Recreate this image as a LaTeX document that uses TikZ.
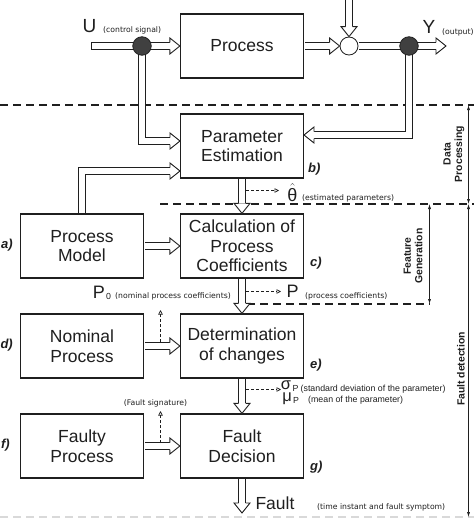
\documentclass[tikz,border=0pt]{standalone}
\usepackage{fontspec}
\setmainfont{Liberation Sans}
\newfontfamily\smallf{DejaVu Sans}
\usetikzlibrary{arrows.meta,calc}
\definecolor{ink}{gray}{0.12}
\newcommand\hR[1]{\begin{scope}[shift={(#1)}]\draw[hhd] (-10,-3.5)--(-10,-8)--(0,0)--(-10,8)--(-10,3.5);\end{scope}}
\newcommand\hL[1]{\begin{scope}[shift={(#1)}]\draw[hhd] (10,-3.5)--(10,-8)--(0,0)--(10,8)--(10,3.5);\end{scope}}
\newcommand\hD[1]{\begin{scope}[shift={(#1)}]\draw[hhd] (-3.5,-10)--(-8,-10)--(0,0)--(8,-10)--(3.5,-10);\end{scope}}
\tikzset{
 box/.style={draw=ink, line width=1.3pt, minimum width=123pt, minimum height=64pt, inner sep=0pt, align=center, font=\fontsize{17.5}{19.5}\selectfont, text=ink},
 pipe/.style={draw=ink, double=white, line width=0.9pt, double distance=6.1pt, shorten >=10pt, shorten <=0.6pt, line join=miter},
 hhd/.style={draw=ink, fill=white, line width=0.9pt, line join=miter},
 dsh/.style={draw=ink, line width=0.7pt, dash pattern=on 3pt off 2pt, -{Triangle[open,length=4.5pt,width=4.5pt]}},
 sepline/.style={draw=ink, line width=1.4pt, dash pattern=on 8pt off 5pt},
 dim/.style={draw=ink, line width=0.6pt, {Latex[length=5pt,width=3pt]}-{Latex[length=5pt,width=3pt]}},
 lbl/.style={font=\fontsize{13}{13}\selectfont\bfseries\itshape, text=ink, inner sep=0pt},
 note/.style={font=\smallf\fontsize{7.7}{8}\selectfont, text=ink, inner sep=0pt},
 noteb/.style={font=\fontsize{8.8}{9}\selectfont, text=ink, inner sep=0pt},
 big/.style={font=\fontsize{19}{19}\selectfont, text=ink, inner sep=0pt},
 greek/.style={font=\fontsize{16.5}{16.5}\selectfont, text=ink, inner sep=0pt},
 side/.style={font=\fontsize{10.4}{11.5}\selectfont\bfseries, text=ink, rotate=90, align=center, inner sep=0pt},
 dot/.style={circle, draw=ink, fill=black!75, line width=0.8pt, minimum size=18.5pt, inner sep=0pt},
}
\begin{document}
\begin{tikzpicture}[x=1pt,y=-1pt]
\useasboundingbox (0,0) rectangle (474,519);
\fill[white] (0,0) rectangle (474,519);
% boxes
\node[box] (proc) at (242,46) {Process};
\node[box] (pe) at (242,146) {Parameter\\Estimation};
\node[box] (pm) at (82,246) {Process\\Model};
\node[box] (calc) at (242,246) {Calculation of\\Process\\Coefficients};
\node[box] (np) at (82,346) {Nominal\\Process};
\node[box] (det) at (242,346) {Determination\\of changes};
\node[box] (fp) at (82,446) {Faulty\\Process};
\node[box] (fd) at (242,446) {Fault\\Decision};
\node[circle, draw=ink, fill=white, line width=0.8pt, minimum size=18pt, inner sep=0pt] (sc) at (349,46) {};
% coordinates
\coordinate (uin) at (91,46);
\coordinate (j1) at (142,46);
\coordinate (j2) at (409,46);
\coordinate (topin) at (349,-2);
\coordinate (yout) at (446,46);
\coordinate (pein1) at (180,141);
\coordinate (pein2) at (304,135);
\coordinate (pein3) at (180,171);
\coordinate (faultout) at (242,513);
% separators
\draw[sepline] (0,105) -- (474,105);
\draw[sepline] (160,204) -- (474,204);
\draw[sepline] (247,304) -- (429.5,304);
\draw[sepline, draw=gray!30] (0,517) -- (474,517);
% pipes
\draw[pipe] (uin) -- (proc.west); \hR{proc.west}
\draw[ink, line width=0.9pt] ($(uin)+(0,-3.95)$) -- ($(uin)+(0,3.95)$);
\draw[pipe] (j1) |- (pein1); \hR{pein1}
\draw[pipe] (topin) -- (sc.north); \hD{sc.north}
\draw[pipe] (proc.east) -- (sc.west); \hR{sc.west}
\draw[pipe] (sc.east) -- (yout); \hR{yout}
\draw[pipe] (j2) |- (pein2); \hL{pein2}
\draw[pipe] (pm.north) |- (pein3); \hR{pein3}
\draw[pipe] (pe.south) -- (calc.north); \hD{calc.north}
\draw[pipe] (pm.east) -- (calc.west); \hR{calc.west}
\draw[pipe] (calc.south) -- (det.north); \hD{det.north}
\draw[pipe] (np.east) -- (det.west); \hR{det.west}
\draw[pipe] (det.south) -- (fd.north); \hD{fd.north}
\draw[pipe] (fp.east) -- (fd.west); \hR{fd.west}
\draw[pipe] (fd.south) -- (faultout); \hD{faultout}
\node[dot] (d1) at (j1) {};
\node[dot] (d2) at (j2) {};
% signal labels
\node[big] (ulab) at (89.5,26) {U};
\node[note, anchor=west] (ut) at (103,30) {(control signal)};
\node[big] (ylab) at (429,26.5) {Y};
\node[note, anchor=west] (yt) at (442,32) {(output)};
% theta
\coordinate (th0) at (246,190.5);
\coordinate (th1) at (279,190.5);
\draw[dsh] (th0) -- (th1);
\node[font=\fontsize{18}{18}\selectfont, text=ink, inner sep=0pt, anchor=base] (theta) at (292.5,201) {$\hat{\mbox{θ}}$};
\node[note, anchor=west] (tht) at (302,198) {(estimated parameters)};
% P0 and P
\node[font=\fontsize{18}{18}\selectfont, text=ink, inner sep=0pt] (p0) at (99,292) {P};
\node[noteb] (p0s) at (108.5,296) {0};
\node[note, anchor=west] (p0t) at (115,296) {(nominal process coefficients)};
\coordinate (pc0) at (246,291.5);
\coordinate (pc1) at (281,291.5);
\draw[dsh] (pc0) -- (pc1);
\node[font=\fontsize{18}{18}\selectfont, text=ink, inner sep=0pt] (pp) at (292.5,291) {P};
\node[note, anchor=west] (ppt) at (305,296) {(process coefficients)};
% nominal dashed
\coordinate (n0) at (160.5,342);
\coordinate (n1) at (160.5,310);
\draw[dsh] (n0) -- (n1);
% sigma mu
\coordinate (s0) at (246,389.5);
\coordinate (s1) at (281,389.5);
\draw[dsh] (s0) -- (s1);
\node[greek, anchor=base] (sg) at (286,389.5) {σ};
\node[noteb, anchor=base west] (sgp) at (292.5,391) {P};
\node[noteb, anchor=west] (sgt) at (300.5,389) {(standard deviation of the parameter)};
\node[greek, anchor=base] (mu) at (287,401.5) {μ};
\node[noteb, anchor=base west] (mup) at (293,403) {P};
\node[noteb, anchor=west] (mut) at (308,400.5) {(mean of the parameter)};
% fault signature
\coordinate (f0) at (160.5,443);
\coordinate (f1) at (160.5,411);
\draw[dsh] (f0) -- (f1);
\node[note] (fst) at (155.5,403) {(Fault signature)};
% fault out
\node[font=\fontsize{17.5}{17.5}\selectfont, text=ink, inner sep=0pt] (flt) at (275,503.5) {Fault};
\node[note, anchor=west] (fltt) at (317,507) {(time instant and fault symptom)};
% letters
\node[lbl, anchor=east] (la) at (13,245) {a)};
\node[lbl, anchor=west] (lb) at (308,169) {b)};
\node[lbl, anchor=west] (lc) at (310,263) {c)};
\node[lbl, anchor=east] (ld) at (13,345) {d)};
\node[lbl, anchor=west] (le) at (310,365) {e)};
\node[lbl, anchor=east] (lf) at (10,445) {f)};
\node[lbl, anchor=west] (lg) at (310,467) {g)};
% side dimension arrows
\coordinate (dpa) at (468.5,105);
\coordinate (dpb) at (468.5,204);
\coordinate (fga) at (429.5,204);
\coordinate (fgb) at (429.5,304);
\coordinate (fda) at (468.5,204);
\coordinate (fdb) at (468.5,517);
\draw[dim] (dpa) -- (dpb);
\draw[dim] (fga) -- (fgb);
\draw[dim] (fda) -- (fdb);
\node[side] (dpl) at (454,154) {Data\\Processing};
\node[side] (fgl) at (413,256) {Feature\\Generation};
\node[side] (fdl) at (461,369) {Fault detection};
\end{tikzpicture}
\end{document}
